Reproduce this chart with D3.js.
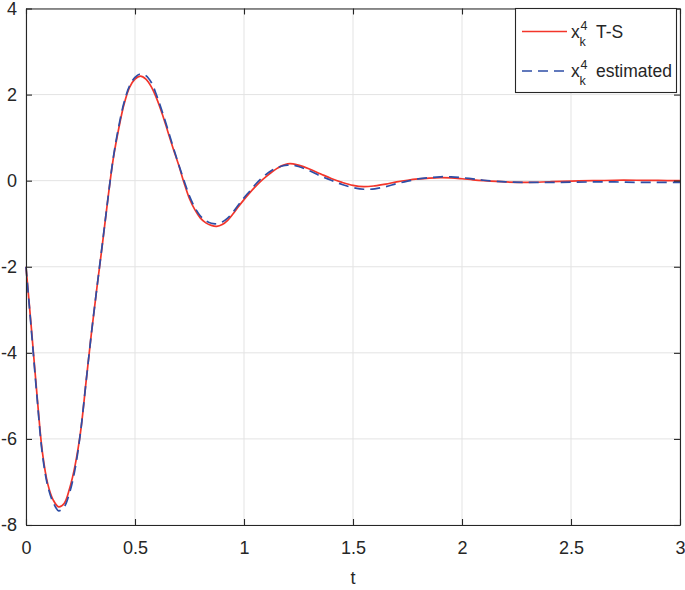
<!DOCTYPE html>
<html lang="en">
<head>
  <meta charset="UTF-8">
  <title>x_k^4 T-S vs estimated</title>
  <script src="https://d3js.org/d3.v7.min.js"></script>
  <style>
    body { margin: 0; background: #fff; }
    text { font-family: "Liberation Sans", Arial, Helvetica, sans-serif; fill: #262626; }
  </style>
</head>
<body>
  <div id="viz"></div>

  <script>
    // sample times (denser where the signal moves fast)
    const tValues = [
      0, 0.025, 0.05, 0.075, 0.1, 0.125, 0.15, 0.175, 0.2, 0.225,
      0.25, 0.275, 0.3, 0.325, 0.35, 0.375, 0.4, 0.425, 0.45, 0.475,
      0.5, 0.525, 0.55, 0.575, 0.6, 0.625, 0.65, 0.675, 0.7, 0.725,
      0.75, 0.775, 0.8, 0.825, 0.85, 0.875, 0.9, 0.925, 0.95, 0.975,
      1.0, 1.025, 1.05, 1.075, 1.1, 1.125, 1.15, 1.175, 1.2, 1.225,
      1.25, 1.3, 1.35, 1.4, 1.45, 1.5, 1.55, 1.6, 1.65, 1.7,
      1.75, 1.8, 1.85, 1.9, 1.95, 2.0, 2.05, 2.1, 2.2, 2.3,
      2.4, 2.5, 2.6, 2.7, 2.8, 2.9, 3.0
    ];

    // x_k^4 from the T-S model
    const tsValues = [
      -2.0, -3.45, -4.95, -6.3, -7.05, -7.42, -7.58, -7.5, -7.15, -6.62,
      -5.85, -4.7, -3.55, -2.5, -1.5, -0.45, 0.5, 1.2, 1.78, 2.17,
      2.36, 2.43, 2.36, 2.18, 1.9, 1.55, 1.15, 0.75, 0.37, -0.05,
      -0.42, -0.68, -0.87, -0.98, -1.04, -1.06, -1.02, -0.92, -0.77, -0.6,
      -0.44, -0.29, -0.15, -0.02, 0.09, 0.19, 0.28, 0.35, 0.39, 0.39,
      0.36, 0.27, 0.16, 0.05, -0.04, -0.11, -0.14, -0.12, -0.08, -0.03,
      0.01, 0.04, 0.06, 0.07, 0.065, 0.045, 0.02, 0.0, -0.03, -0.04,
      -0.025, -0.01, 0.0, 0.01, 0.01, 0.005, 0.0
    ];

    // x_k^4 estimated
    const estValues = [
      -2.0, -3.5, -5.0, -6.35, -7.1, -7.48, -7.67, -7.58, -7.25, -6.7,
      -5.85, -4.7, -3.55, -2.5, -1.48, -0.45, 0.52, 1.25, 1.82, 2.2,
      2.4, 2.48, 2.44, 2.28, 1.97, 1.6, 1.2, 0.78, 0.38, 0.0,
      -0.36, -0.63, -0.82, -0.93, -0.99, -1.0, -0.96, -0.87, -0.73, -0.56,
      -0.4, -0.25, -0.1, 0.03, 0.14, 0.23, 0.3, 0.34, 0.36, 0.36,
      0.33, 0.23, 0.11, 0.01, -0.09, -0.16, -0.2, -0.19, -0.14, -0.07,
      -0.01, 0.04, 0.07, 0.09, 0.09, 0.07, 0.04, 0.01, -0.03, -0.04,
      -0.04, -0.035, -0.03, -0.03, -0.04, -0.04, -0.04
    ];

    const xTicks = [0, 0.5, 1, 1.5, 2, 2.5, 3];
    const yTicks = [-8, -6, -4, -2, 0, 2, 4];
    const legendLabels = ['T-S', 'estimated'];

    const width = 685, height = 590;
    const plotLeft = 26, plotRight = 680, plotTop = 8.5, plotBottom = 525;
    const axisColor = '#262626';
    const colors = ['#f3352a', '#2e4ea6'];
    const tickFmt = d => String(d);   // plain hyphen minus, like MATLAB

    const svg = d3.select('#viz')
      .append('svg')
        .attr('width', width)
        .attr('height', height);

    const x = d3.scaleLinear().domain([0, 3]).range([plotLeft, plotRight]);
    const y = d3.scaleLinear().domain([-8, 4]).range([plotBottom, plotTop]);

    // grid
    svg.append('g')
      .selectAll('line')
      .data(xTicks)
      .join('line')
        .attr('x1', d => x(d)).attr('x2', d => x(d))
        .attr('y1', plotTop).attr('y2', plotBottom)
        .attr('stroke', '#e3e3e3')
        .attr('stroke-width', 1);

    svg.append('g')
      .selectAll('line')
      .data(yTicks)
      .join('line')
        .attr('x1', plotLeft).attr('x2', plotRight)
        .attr('y1', d => y(d)).attr('y2', d => y(d))
        .attr('stroke', '#e3e3e3')
        .attr('stroke-width', 1);

    // curves
    const line = d3.line()
      .x(d => x(d[0]))
      .y(d => y(d[1]))
      .curve(d3.curveCatmullRom.alpha(0.5));

    const series = [tsValues, estValues];
    series.forEach((vals, i) => {
      svg.append('path')
        .datum(tValues.map((t, j) => [t, vals[j]]))
        .attr('d', line)
        .attr('fill', 'none')
        .attr('stroke', colors[i])
        .attr('stroke-width', 1.7)
        .attr('stroke-dasharray', i === 1 ? '10,6' : null);
    });

    // axes, MATLAB style box with inward ticks
    function styleAxis(g) {
      g.select('.domain').attr('stroke', axisColor).attr('stroke-width', 1.1);
      g.selectAll('.tick line').attr('stroke', axisColor).attr('stroke-width', 1.1);
      g.selectAll('.tick text')
        .attr('fill', axisColor)
        .style('font-size', '18px')
        .style('font-family', '"Liberation Sans", Arial, Helvetica, sans-serif');
    }

    svg.append('g')
      .attr('transform', `translate(0,${plotBottom})`)
      .call(d3.axisBottom(x).tickValues(xTicks).tickSize(-6).tickSizeOuter(0)
        .tickPadding(16.5).tickFormat(tickFmt))
      .call(styleAxis);

    svg.append('g')
      .attr('transform', `translate(${plotLeft},0)`)
      .call(d3.axisLeft(y).tickValues(yTicks).tickSize(-6).tickSizeOuter(0)
        .tickPadding(9).tickFormat(tickFmt))
      .call(styleAxis);

    svg.append('g')
      .attr('transform', `translate(0,${plotTop})`)
      .call(d3.axisTop(x).tickValues(xTicks).tickSize(-6).tickSizeOuter(0).tickFormat(''))
      .call(styleAxis);

    svg.append('g')
      .attr('transform', `translate(${plotRight},0)`)
      .call(d3.axisRight(y).tickValues(yTicks).tickSize(-6).tickSizeOuter(0).tickFormat(''))
      .call(styleAxis);

    // x label
    svg.append('text')
      .attr('x', (plotLeft + plotRight) / 2)
      .attr('y', 584)
      .attr('text-anchor', 'middle')
      .style('font-size', '18px')
      .text('t');

    // legend
    const legend = svg.append('g');
    legend.append('rect')
      .attr('x', 515.5).attr('y', 8.5)
      .attr('width', 161).attr('height', 84)
      .attr('fill', '#fff')
      .attr('stroke', axisColor)
      .attr('stroke-width', 1.1);

    legendLabels.forEach((label, i) => {
      const cy = 31.5 + i * 39.5;
      legend.append('line')
        .attr('x1', 522).attr('x2', 567)
        .attr('y1', cy).attr('y2', cy)
        .attr('stroke', colors[i])
        .attr('stroke-width', 1.7)
        .attr('stroke-dasharray', i === 1 ? '10,6' : null);
      legend.append('text')
        .attr('x', 571).attr('y', cy + 6)
        .style('font-size', '17.5px')
        .text('x');
      legend.append('text')
        .attr('x', 580.5).attr('y', cy - 2)
        .style('font-size', '12.5px')
        .text('4');
      legend.append('text')
        .attr('x', 579.5).attr('y', cy + 14)
        .style('font-size', '12.5px')
        .text('k');
      legend.append('text')
        .attr('x', 596).attr('y', cy + 6)
        .style('font-size', '17.5px')
        .text(label);
    });
  </script>
</body>
</html>
